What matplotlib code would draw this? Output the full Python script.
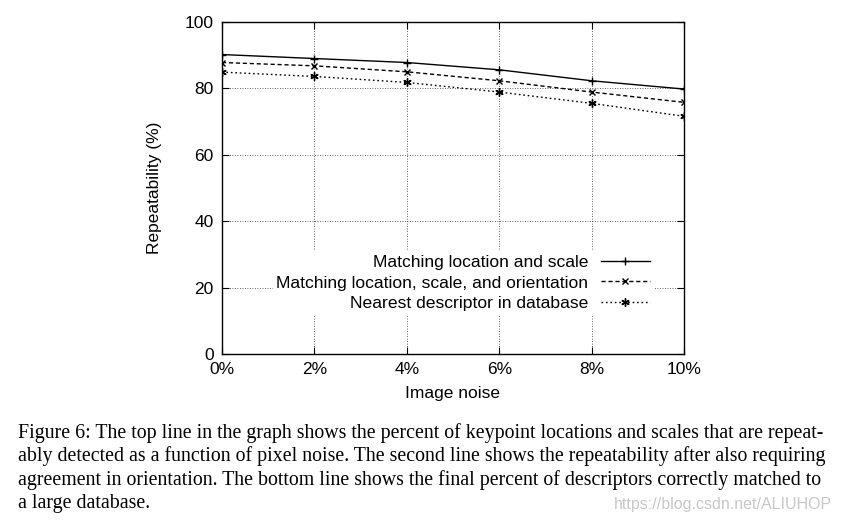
import matplotlib.pyplot as plt
import numpy as np

noise = [0, 2, 4, 6, 8, 10]
noise_labels = ["0%", "2%", "4%", "6%", "8%", "10%"]
loc_scale = [90.2, 89.0, 87.8, 85.6, 82.3, 79.8]
loc_scale_ori = [87.8, 86.8, 85.0, 82.3, 78.9, 75.8]
nearest_desc = [84.9, 83.6, 81.8, 78.9, 75.5, 71.6]

caption_lines = [
    "Figure 6: The top line in the graph shows the percent of keypoint locations and scales that are repeat-",
    "ably detected as a function of pixel noise. The second line shows the repeatability after also requiring",
    "agreement in orientation. The bottom line shows the final percent of descriptors correctly matched to",
    "a large database.",
]

plt.rcParams['font.family'] = ['Liberation Sans', 'DejaVu Sans']

fig = plt.figure(figsize=(8.53, 5.21), dpi=100)
ax = fig.add_axes([222 / 853, 1 - 354 / 521, 462 / 853, 332 / 521])

ax.plot(noise, loc_scale, color="black", linestyle="-", linewidth=1.0,
        marker="+", markersize=6, markeredgewidth=1.0, label="Matching location and scale")
ax.plot(noise, loc_scale_ori, color="black", linestyle=(0, (3, 2)), linewidth=1.0,
        marker="x", markersize=5, markeredgewidth=1.0, label="Matching location, scale, and orientation")
ax.plot(noise, nearest_desc, color="black", linestyle=(0, (1.2, 2)), linewidth=1.0,
        marker=(6, 2, 0), markersize=6, markeredgewidth=1.0, label="Nearest descriptor in database")

ax.set_xlim(0, 10)
ax.set_ylim(0, 100)
ax.set_xticks(noise)
ax.set_xticklabels(noise_labels)
ax.set_yticks([0, 20, 40, 60, 80, 100])
ax.grid(True, linestyle=(0, (1, 2)), color="black", linewidth=0.6, alpha=0.8)
ax.tick_params(direction="in", length=5, labelsize=12.5, top=True, right=True, pad=6)
for s in ax.spines.values():
    s.set_linewidth(1.0)

ax.set_xlabel("Image noise", fontsize=12.5, labelpad=6)
ax.set_ylabel("Repeatability (%)", fontsize=12.5, labelpad=16)

leg = ax.legend(loc="center right", bbox_to_anchor=(0.952, 0.214), markerfirst=False,
                frameon=True, fontsize=12.6, handlelength=2.8, borderpad=0.2,
                labelspacing=0.3, handletextpad=0.7)
leg.get_frame().set_edgecolor("white")
leg.get_frame().set_facecolor("white")
leg.get_frame().set_alpha(1.0)
for t in leg.get_texts():
    t.set_ha("right")
leg._legend_box.align = "right"

for i, line in enumerate(caption_lines):
    fig.text(18 / 853, 1 - (433 + 23.5 * i) / 521, line, family=["Liberation Serif", "DejaVu Serif"],
             fontsize=14.3, va="center", ha="left")
fig.text(832 / 853, 1 - 504 / 521, "https://blog.csdn.net/ALIUHOP", color="#c8c8c8",
         fontsize=11.5, ha="right", va="center")

fig.savefig("out.png", dpi=100)
